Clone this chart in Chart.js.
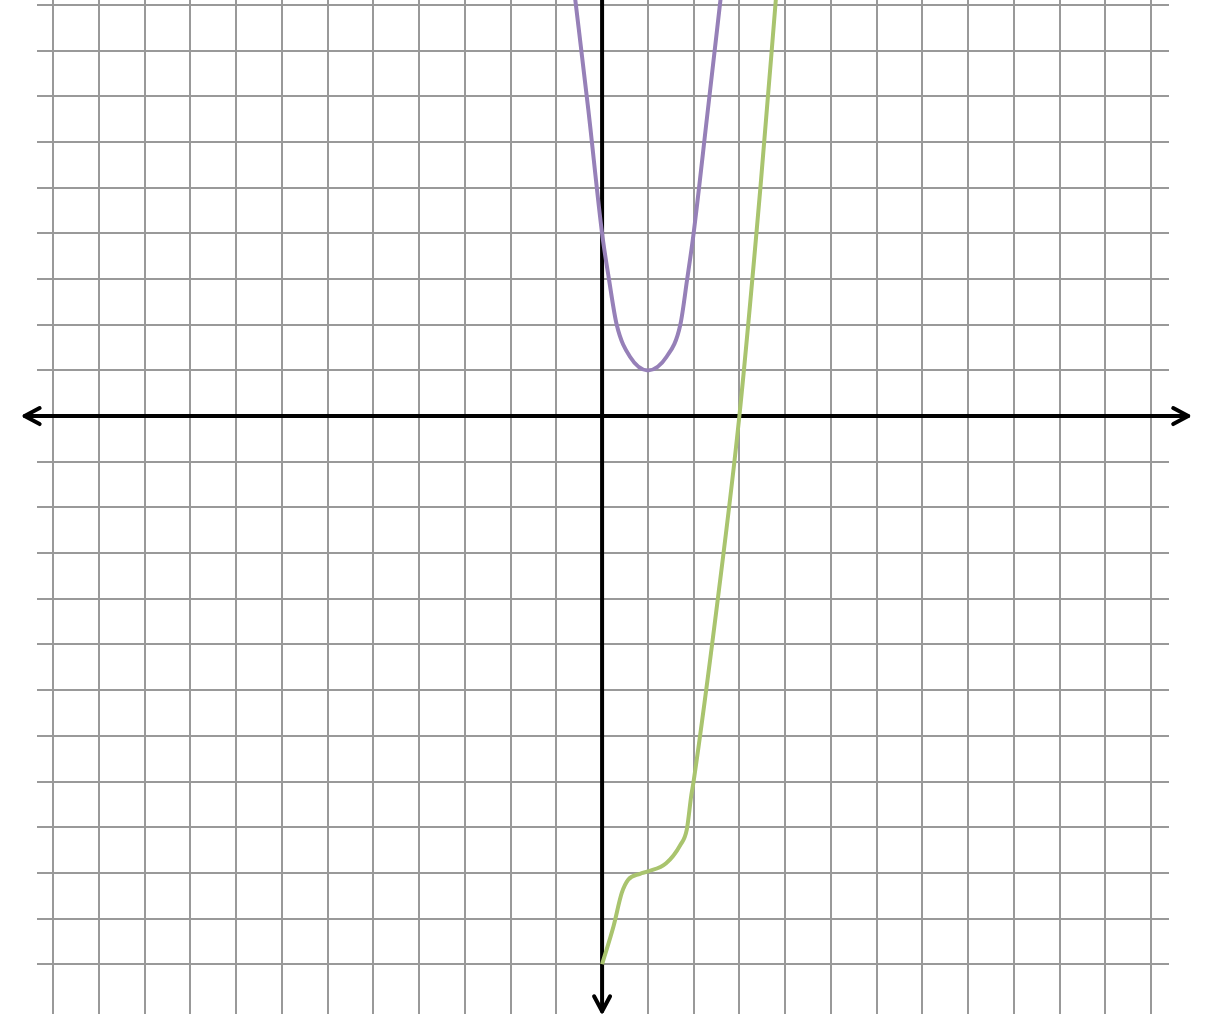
<!DOCTYPE html>
<html>
<head>
<meta charset="utf-8">
<title>Graph</title>
<script src="https://cdn.jsdelivr.net/npm/chart.js@4.4.1/dist/chart.umd.min.js"></script>
<style>
  html, body { margin: 0; padding: 0; background: #ffffff; }
  #graph { display: block; }
</style>
</head>
<body>
<canvas id="graph" width="1210" height="1014"></canvas>
<script>
// Puntos (x, y)
const purpleX = [-0.62, -0.3, 0, 0.15, 0.32, 0.61, 1, 1.41, 1.71, 1.86, 2, 2.3, 2.62];
const purpleY = [9.4, 6.7, 4, 3, 2, 1.3, 1, 1.3, 2, 3, 4, 6.6, 9.4];

const greenX = [0, 0.25, 0.43, 0.57, 0.83, 1, 1.4, 1.71, 1.85, 1.95, 2, 2.53, 3.0, 3.46, 3.82];
const greenY = [-12, -11.17, -10.44, -10.15, -10.02, -9.97, -9.79, -9.39, -9.06, -8.3, -8, -4, 0, 5, 9.4];

// Rango visible y lineas de la cuadricula
const xMin = -12.35, xMax = 12.39;
const yMin = -13.09, yMax = 9.11;
const gridXMin = -12, gridXMax = 12;
const gridYMin = -12, gridYMax = 9;
// Extremos de las flechas de los ejes
const xArrowMin = -12.62, xArrowMax = 12.81, yArrowMin = -13.03;

function toPoints(xs, ys) {
    return xs.map((x, i) => ({ x: x, y: ys[i] }));
}

// Una linea por cada entero de la cuadricula
function gridTicks(lo, hi) {
    return (scale) => {
        const ticks = [];
        for (let v = lo; v <= hi; v++) ticks.push({ value: v });
        scale.ticks = ticks;
    };
}

// Dibuja los ejes negros con flechas
const axesPlugin = {
    id: 'axesArrows',
    beforeDatasetsDraw(chart) {
        const ctx = chart.ctx;
        const sx = chart.scales.x, sy = chart.scales.y;
        const x0 = sx.getPixelForValue(0), y0 = sy.getPixelForValue(0);
        const left = sx.getPixelForValue(xArrowMin), right = sx.getPixelForValue(xArrowMax);
        const top = 0, bottom = sy.getPixelForValue(yArrowMin);
        const head = 15, wing = 8;
        ctx.save();
        ctx.strokeStyle = '#000000';
        ctx.lineWidth = 4;
        ctx.lineCap = 'round';
        ctx.lineJoin = 'round';
        ctx.beginPath();
        ctx.moveTo(left, y0); ctx.lineTo(right, y0);
        ctx.moveTo(x0, top); ctx.lineTo(x0, bottom);
        ctx.stroke();
        ctx.beginPath();
        ctx.moveTo(left + head, y0 - wing); ctx.lineTo(left, y0); ctx.lineTo(left + head, y0 + wing);
        ctx.moveTo(right - head, y0 - wing); ctx.lineTo(right, y0); ctx.lineTo(right - head, y0 + wing);
        ctx.moveTo(x0 - wing, bottom - head); ctx.lineTo(x0, bottom); ctx.lineTo(x0 + wing, bottom - head);
        ctx.stroke();
        ctx.restore();
    }
};

const config = {
    type: 'scatter',
    data: {
        datasets: [
            {
                data: toPoints(purpleX, purpleY),
                borderColor: '#9680b8',
                borderWidth: 4,
                showLine: true,
                pointRadius: 0,
                cubicInterpolationMode: 'monotone'
            },
            {
                data: toPoints(greenX, greenY),
                borderColor: '#a9c46e',
                borderWidth: 4,
                showLine: true,
                pointRadius: 0,
                cubicInterpolationMode: 'monotone'
            }
        ]
    },
    options: {
        responsive: false,
        animation: false,
        devicePixelRatio: 1,
        layout: { padding: { left: 37, right: 41, top: 0, bottom: 0 } },
        plugins: { legend: { display: false }, tooltip: { enabled: false } },
        scales: {
            x: {
                type: 'linear', min: xMin, max: xMax,
                ticks: { display: false, stepSize: 1 },
                afterBuildTicks: gridTicks(gridXMin, gridXMax),
                grid: { color: '#999999', lineWidth: 2, drawTicks: false },
                border: { display: false }
            },
            y: {
                type: 'linear', min: yMin, max: yMax,
                ticks: { display: false, stepSize: 1 },
                afterBuildTicks: gridTicks(gridYMin, gridYMax),
                grid: { color: '#999999', lineWidth: 2, drawTicks: false },
                border: { display: false }
            }
        }
    },
    plugins: [axesPlugin]
};

window.myGraph = new Chart(document.getElementById('graph'), config);
</script>
</body>
</html>
